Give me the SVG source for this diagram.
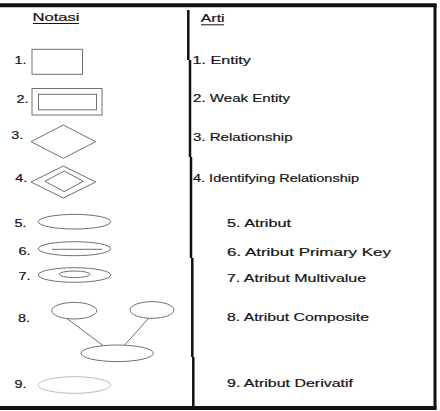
<svg xmlns="http://www.w3.org/2000/svg" width="440" height="411" viewBox="0 0 440 411">
<style>
text{font-family:"Liberation Sans",Arial,sans-serif;font-size:11.5px;fill:#151515;stroke:#151515;stroke-width:0.2}
.s{fill:#fff;stroke:#707070;stroke-width:1}
.l{stroke:#707070;stroke-width:1;fill:none}
.b{stroke:#111;fill:none}
</style>
<rect x="0" y="0" width="440" height="411" fill="#fff"/>
<g id="frame">
<line class="b" x1="0" y1="5.3" x2="436.5" y2="5.3" stroke-width="4"/>
<line class="b" x1="435" y1="4" x2="435" y2="409" stroke-width="3"/>
<line class="b" x1="0" y1="408" x2="436.5" y2="408" stroke-width="4"/>
<path class="b" stroke-width="2.5" d="M188.3 10V60M190 60V157M191 157V258M192.3 258V357M193.3 357V406"/>
</g>
<g id="headers">
<text transform="translate(32.5,21) scale(1.25,1)" textLength="37.6" lengthAdjust="spacingAndGlyphs">Notasi</text>
<line x1="33" y1="23.5" x2="79" y2="23.5" stroke="#151515" stroke-width="1"/>
<text transform="translate(200.8,22) scale(1.25,1)" textLength="19" lengthAdjust="spacingAndGlyphs">Arti</text>
<line x1="201" y1="24.8" x2="224" y2="24.8" stroke="#151515" stroke-width="1"/>
</g>
<g id="n1">
<text transform="translate(14.5,64) scale(1.25,1)">1.</text>
<rect class="s" x="32" y="49.3" width="50.5" height="25"/>
</g>
<g id="n2">
<text transform="translate(16.5,103) scale(1.25,1)">2.</text>
<rect class="s" x="32" y="88.5" width="70" height="26.5"/>
<rect class="s" x="38.5" y="94.3" width="58" height="15.5"/>
</g>
<g id="n3">
<text transform="translate(11.2,138.5) scale(1.25,1)">3.</text>
<polygon class="s" points="31,141.7 63.3,125 95.7,141.7 63.3,158.3"/>
</g>
<g id="n4">
<text transform="translate(15.2,181.7) scale(1.25,1)">4.</text>
<polygon class="s" points="31,182 63.3,166 95.7,182 63.3,198"/>
<polygon class="s" points="45,181.3 64.2,171 83.3,181.3 64.2,191.7"/>
</g>
<g id="n5">
<text transform="translate(14.5,226.7) scale(1.25,1)">5.</text>
<ellipse class="s" cx="74.5" cy="221.7" rx="36.2" ry="7.3"/>
</g>
<g id="n6">
<text transform="translate(18.5,254.5) scale(1.25,1)">6.</text>
<ellipse class="s" cx="74.5" cy="248.7" rx="36.2" ry="7"/>
<line class="l" x1="52" y1="249.3" x2="102" y2="249.3"/>
</g>
<g id="n7">
<text transform="translate(18.5,280) scale(1.25,1)">7.</text>
<ellipse class="s" cx="74.5" cy="275" rx="36.2" ry="7.3"/>
<ellipse class="s" cx="74.5" cy="274.3" rx="15.5" ry="3.3"/>
</g>
<g id="connectors">
<line class="l" x1="66.7" y1="318.3" x2="103.3" y2="345.7"/>
<line class="l" x1="150" y1="316.7" x2="124" y2="345.7"/>
</g>
<g id="n8">
<text transform="translate(18,321.7) scale(1.25,1)">8.</text>
<ellipse class="s" cx="74.2" cy="310.7" rx="22.5" ry="8.3"/>
<ellipse class="s" cx="152" cy="310" rx="22" ry="8.3"/>
<ellipse class="s" cx="117.2" cy="353.3" rx="36.2" ry="8.3"/>
</g>
<g id="n9">
<text transform="translate(14.5,388.3) scale(1.25,1)">9.</text>
<ellipse cx="74.5" cy="385" rx="36.2" ry="8.3" fill="#fff" stroke="#bdbdbd" stroke-width="1"/>
</g>
<g id="arti">
<text transform="translate(192.6,64) scale(1.25,1)" textLength="46.6" lengthAdjust="spacingAndGlyphs">1. Entity</text>
<text transform="translate(193,101.7) scale(1.25,1)" textLength="77.6" lengthAdjust="spacingAndGlyphs">2. Weak Entity</text>
<text transform="translate(193,141.3) scale(1.25,1)" textLength="79.6" lengthAdjust="spacingAndGlyphs">3. Relationship</text>
<text transform="translate(193,182) scale(1.25,1)" textLength="132.8" lengthAdjust="spacingAndGlyphs">4. Identifying Relationship</text>
<text transform="translate(227,227.3) scale(1.25,1)" textLength="51.2" lengthAdjust="spacingAndGlyphs">5. Atribut</text>
<text transform="translate(227,256) scale(1.25,1)" textLength="131.2" lengthAdjust="spacingAndGlyphs">6. Atribut Primary Key</text>
<text transform="translate(227,282) scale(1.25,1)" textLength="111.2" lengthAdjust="spacingAndGlyphs">7. Atribut Multivalue</text>
<text transform="translate(227,321) scale(1.25,1)" textLength="113.6" lengthAdjust="spacingAndGlyphs">8. Atribut Composite</text>
<text transform="translate(227,387.3) scale(1.25,1)" textLength="100.8" lengthAdjust="spacingAndGlyphs">9. Atribut Derivatif</text>
</g>
</svg>
